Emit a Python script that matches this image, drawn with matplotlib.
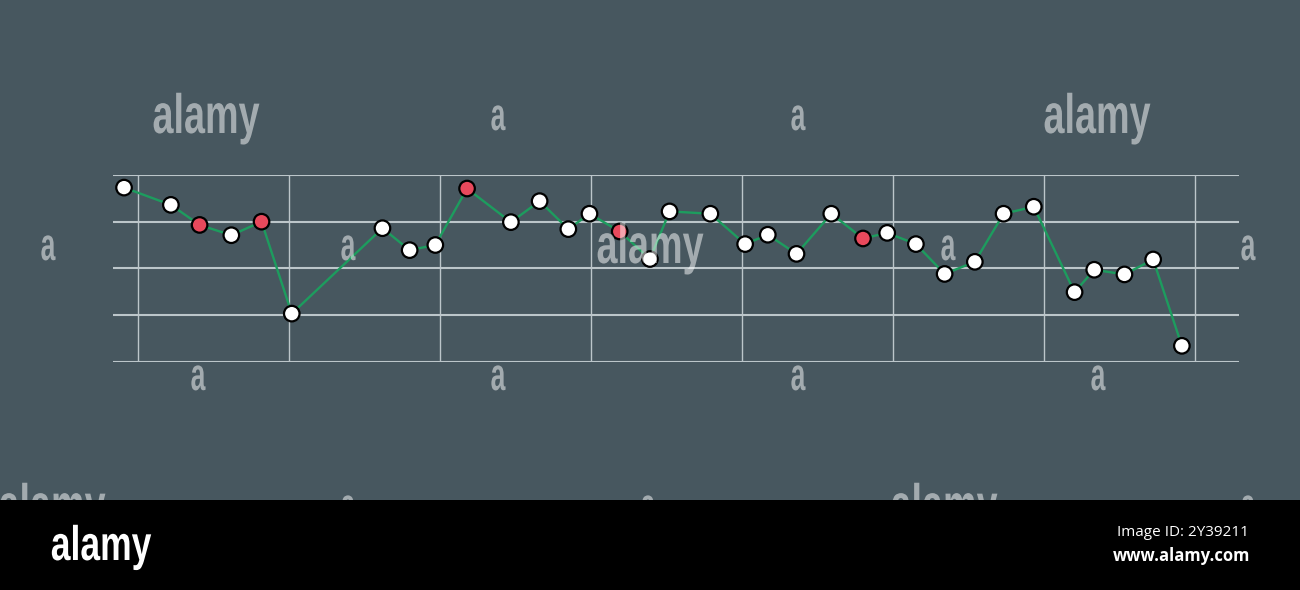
import matplotlib
matplotlib.use('Agg')
import matplotlib.pyplot as plt
from matplotlib.patches import Rectangle
from matplotlib.patheffects import AbstractPathEffect
from matplotlib.transforms import Affine2D, Bbox, TransformedBbox

# values (x in grid steps, y in grid rows)
x_vals = [-0.09, 0.22, 0.41, 0.62, 0.82, 1.02, 1.62, 1.80, 1.97, 2.18,
          2.47, 2.66, 2.85, 2.99, 3.19, 3.39, 3.52, 3.79, 4.02, 4.17,
          4.36, 4.59, 4.80, 4.96, 5.15, 5.34, 5.54, 5.73, 5.93, 6.20,
          6.33, 6.53, 6.72, 6.91]
y_vals = [3.73, 3.36, 2.93, 2.71, 3.00, 1.03, 2.86, 2.39, 2.50, 3.71,
          2.99, 3.44, 2.84, 3.17, 2.79, 2.20, 3.22, 3.17, 2.52, 2.72,
          2.31, 3.17, 2.64, 2.76, 2.52, 1.88, 2.14, 3.17, 3.32, 1.49,
          1.97, 1.87, 2.19, 0.34]
red_idx = [2, 4, 9, 14, 22]

bg = '#47575f'
grid_col = '#bcc6ca'
line_col = '#1d9c5e'
red_col = '#e8495c'


class Squash(AbstractPathEffect):
    # narrows the glyphs around x = cx (display pixels), like a condensed face
    def __init__(self, cx, sx):
        super().__init__()
        self.cx = cx
        self.sx = sx

    def draw_path(self, renderer, gc, tpath, affine, rgbFace=None):
        sq = Affine2D().translate(-self.cx, 0).scale(self.sx, 1).translate(self.cx, 0)
        renderer.draw_path(gc, tpath, affine + sq, rgbFace)


fig = plt.figure(figsize=(13, 5.9), dpi=100, facecolor=bg)
ax = fig.add_axes([113.3 / 1300, (590 - 361.7) / 590, 1126 / 1300, 186.7 / 590])
ax.set_facecolor(bg)
ax.set_xlim(-0.161, 7.29)
ax.set_ylim(0, 4)
for s in ax.spines.values():
    s.set_visible(False)
ax.set_xticks([])
ax.set_yticks([])

for gy in range(5):
    ax.axhline(gy, color=grid_col, lw=1.5, zorder=1)
for gx in range(8):
    ax.axvline(gx, color=grid_col, lw=1.0, zorder=1)

ax.plot(x_vals, y_vals, color=line_col, lw=1.7, zorder=2, clip_on=False)
face = [red_col if i in red_idx else 'white' for i in range(len(x_vals))]
ax.scatter(x_vals, y_vals, s=125, c=face, edgecolors='black', linewidths=1.6,
           zorder=3, clip_on=False)

# watermark overlay
wm_font = ['Liberation Sans', 'DejaVu Sans']
clip = TransformedBbox(Bbox([[0, 90 / 590], [1, 1]]), fig.transFigure)
big = [(206, 133), (1097, 133), (650, 263), (52, 523), (944, 523)]
small = [(498, 130), (798, 130), (48, 260), (348, 260), (948, 260), (1248, 260),
         (198, 390), (498, 390), (798, 390), (1098, 390),
         (348, 520), (648, 520), (1248, 520)]
for words, spots, size, sx in [('alamy', big, 40, 0.68), ('a', small, 33, 0.58)]:
    for px, py in spots:
        t = fig.text(px / 1300, 1 - py / 590, words, fontsize=size,
                     fontweight='bold', family=wm_font, color='white', alpha=0.5,
                     ha='center', va='baseline', zorder=5,
                     path_effects=[Squash(px, sx)])
        t.set_clip_box(clip)

# bottom band
fig.patches.append(Rectangle((0, 0), 1, 90 / 590, transform=fig.transFigure,
                             facecolor='black', edgecolor='none', zorder=10))
fig.text(101 / 1300, 1 - 560 / 590, 'alamy', fontsize=35, fontweight='bold',
         family=wm_font, color='white', ha='center', va='baseline', zorder=11,
         path_effects=[Squash(101, 0.73)])
fig.text(1249 / 1300, 1 - 532 / 590, 'Image ID: 2Y39211', fontsize=11,
         family=['Open Sans', 'DejaVu Sans'], color='white', ha='right',
         va='center', zorder=11)
fig.text(1250 / 1300, 1 - 556 / 590, 'www.alamy.com', fontsize=12,
         fontweight='bold', family=['Open Sans', 'DejaVu Sans'], color='white',
         ha='right', va='center', zorder=11)

plt.savefig('out.png', dpi=100, facecolor=bg)
